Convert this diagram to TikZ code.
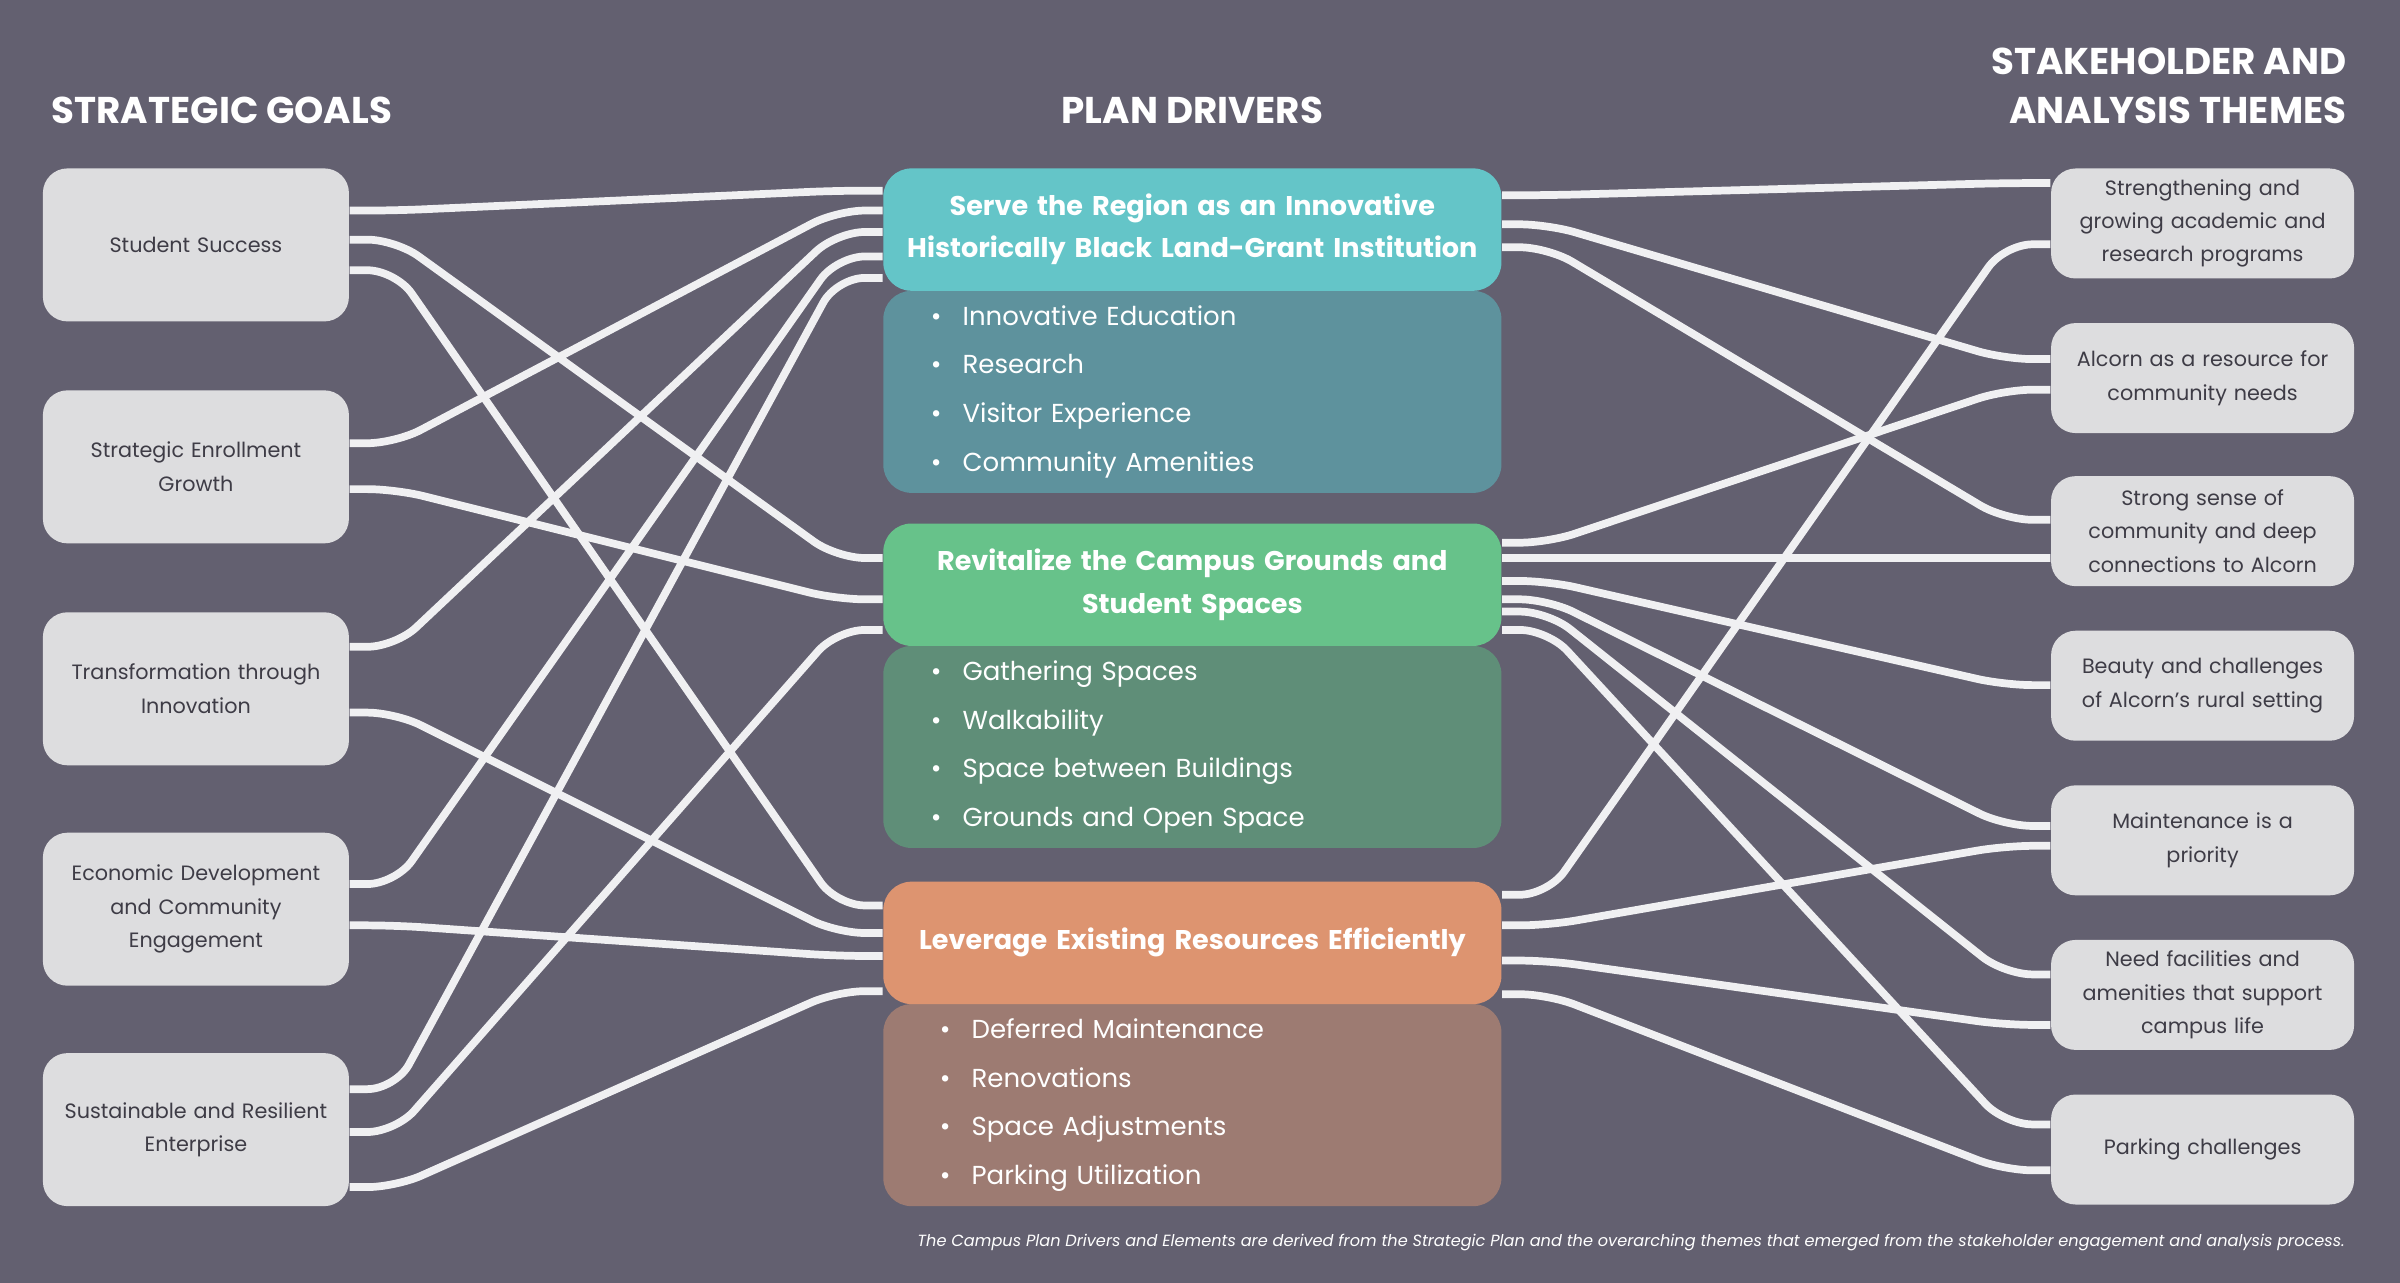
\documentclass[tikz,border=0pt]{standalone}
\usepackage{fontspec}
\setmainfont{Poppins}
\usepackage{xcolor}
\usetikzlibrary{backgrounds}
\usetikzlibrary{calc}
\definecolor{bgpurple}{RGB}{99,96,112}
\definecolor{boxgrey}{RGB}{221,221,223}
\definecolor{inkgrey}{RGB}{62,60,70}
\definecolor{linkwhite}{RGB}{240,240,242}
\definecolor{tealhead}{RGB}{100,197,200}
\definecolor{tealbody}{RGB}{94,146,157}
\definecolor{greenhead}{RGB}{103,194,138}
\definecolor{greenbody}{RGB}{95,142,120}
\definecolor{orangehead}{RGB}{221,148,112}
\definecolor{orangebody}{RGB}{157,123,114}
\tikzset{
	goal/.style={fill=boxgrey, rounded corners=7pt, minimum width=3.06cm, minimum height=1.53cm, text width=2.95cm, inner sep=0pt, align=center, font=\fontsize{5.9}{9.5}\selectfont, text=inkgrey},
	theme/.style={goal, minimum width=3.03cm, minimum height=1.10cm},
	driver/.style={rounded corners=8pt, minimum width=6.18cm, minimum height=1.224cm, text width=6.1cm, inner sep=0pt, align=center, font=\bfseries\fontsize{7.7}{12}\selectfont, text=white},
	element/.style={rounded corners=8pt, minimum width=6.18cm, minimum height=2.02cm, text width=5.23cm, inner sep=0pt, align=left, font=\fontsize{7.4}{13.9}\selectfont, text=white},
	heading/.style={font=\bfseries\fontsize{10.6}{13.8}\selectfont, text=white},
	link/.style={draw=linkwhite, line width=2.2pt, rounded corners=8pt}
}
\newcommand{\itm}{\textbullet\hspace{6pt}}
\begin{document}
\begin{tikzpicture}[x=0.0153cm, y=-0.0153cm]
	\fill[bgpurple] (0,0) rectangle (1568,838);
	\node[heading] (goalhead) at (145,72) {STRATEGIC GOALS};
	\node[heading] (drivehead) at (779,72) {PLAN DRIVERS};
	\node[heading, anchor=east, align=right] (themehead) at (1541,56) {STAKEHOLDER AND\\ANALYSIS THEMES};
	% strategic goals
	\node[goal] (ss) at (128,160) {Student Success};
	\node[goal] (eg) at (128,305) {Strategic Enrollment\\Growth};
	\node[goal] (ti) at (128,450) {Transformation through\\Innovation};
	\node[goal] (ed) at (128,594) {Economic Development\\and Community\\Engagement};
	\node[goal] (sr) at (128,738) {Sustainable and Resilient\\Enterprise};
	% plan drivers
	\node[element, fill=tealbody] (e1) at (779,256) {\itm Innovative Education\\\itm Research\\\itm Visitor Experience\\\itm Community Amenities};
	\node[element, fill=greenbody] (e2) at (779,488) {\itm Gathering Spaces\\\itm Walkability\\\itm Space between Buildings\\\itm Grounds and Open Space};
	\node[element, fill=orangebody] (e3) at (779,722) {\hspace*{0.09cm}\itm Deferred Maintenance\\\hspace*{0.09cm}\itm Renovations\\\hspace*{0.09cm}\itm Space Adjustments\\\hspace*{0.09cm}\itm Parking Utilization};
	\node[driver, fill=tealhead] (d1) at (779,150) {Serve the Region as an Innovative\\Historically Black Land-Grant Institution};
	\node[driver, fill=greenhead] (d2) at (779,382) {Revitalize the Campus Grounds and\\Student Spaces};
	\node[driver, fill=orangehead] (d3) at (779,616) {Leverage Existing Resources Efficiently};
	% stakeholder themes
	\node[theme] (t1) at (1439,146) {Strengthening and\\growing academic and\\research programs};
	\node[theme] (t2) at (1439,247) {Alcorn as a resource for\\community needs};
	\node[theme] (t3) at (1439,347) {Strong sense of\\community and deep\\connections to Alcorn};
	\node[theme] (t4) at (1439,448) {Beauty and challenges\\of Alcorn’s rural setting};
	\node[theme] (t5) at (1439,549) {Maintenance is a\\priority};
	\node[theme] (t6) at (1439,650) {Need facilities and\\amenities that support\\campus life};
	\node[theme] (t7) at (1439,751) {Parking challenges};
	% goals to drivers
	\foreach \a/\i/\b/\j in {ss/28/d1/15, ss/47/d2/23, ss/67/d3/16, eg/35/d1/28, eg/65/d2/50, ti/23/d1/42, ti/66/d3/34, ed/34/d1/58, ed/61/d3/49, sr/24/d1/72, sr/52/d2/70, sr/88/d3/72}
		\draw[link] ($(\a.north east)+(0,\i)$) -- ++(30,0) -- ($(\b.north west)+(-30,\j)$) -- ($(\b.north west)+(0,\j)$);
	% drivers to themes
	\foreach \a/\i/\b/\j in {d1/18/t1/10, d1/37/t2/24, d1/52/t3/29, d3/9/t1/50, d2/13/t2/44, d2/23/t3/54, d2/38/t4/36, d2/50/t5/27, d2/58/t6/23, d2/70/t7/20, d3/29/t5/40, d3/52/t6/56, d3/74/t7/50}
		\draw[link] ($(\a.north east)+(0,\i)$) -- ++(30,0) -- ($(\b.north west)+(-30,\j)$) -- ($(\b.north west)+(0,\j)$);
	\node[anchor=east, text=white, font=\itshape\fontsize{4.6}{6}\selectfont] (note) at (1540,812) {The Campus Plan Drivers and Elements are derived from the Strategic Plan and the overarching themes that emerged from the stakeholder engagement and analysis process.};
\end{tikzpicture}
\end{document}
